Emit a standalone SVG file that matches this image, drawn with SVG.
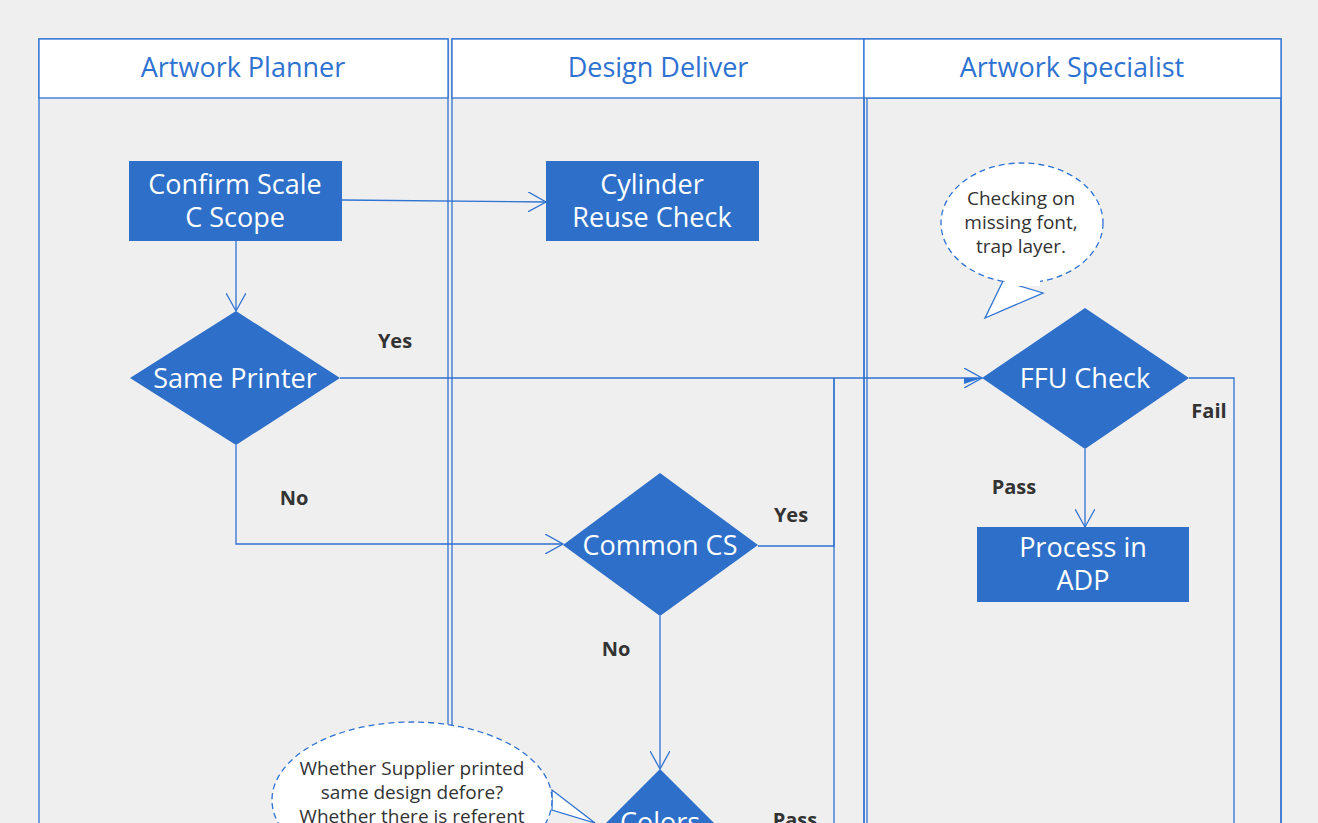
<svg xmlns="http://www.w3.org/2000/svg" width="1318" height="823" viewBox="0 0 1318 823">
<style>
.lane{fill:none;stroke:#2e72d2;stroke-width:1.3}
.hdr{fill:#fff;stroke:#2e72d2;stroke-width:1.3}
.ht{font-family:"Segoe UI","Open Sans","Noto Sans",sans-serif;font-size:27px;fill:#2e72d2;text-anchor:middle}
.node{fill:#2e70c9}
.nt{font-family:"Segoe UI","Open Sans","Noto Sans",sans-serif;font-size:27px;fill:#fff;text-anchor:middle}
.c{fill:none;stroke:#2e72d2;stroke-width:1.3}
.lbl{font-family:"Open Sans","Noto Sans",sans-serif;font-weight:bold;font-size:20px;fill:#333;text-anchor:middle}
.call{fill:#fff;stroke:#2e72d2;stroke-width:1.3;stroke-dasharray:6 4}
.ct{font-family:"Segoe UI","Open Sans","Noto Sans",sans-serif;font-size:19px;fill:#333;text-anchor:middle}
</style>
<defs><marker id="a" markerWidth="20" markerHeight="20" refX="18" refY="10" orient="auto" markerUnits="userSpaceOnUse"><path d="M0,0 L18,10 L0,20" fill="none" stroke="#2e72d2" stroke-width="1.3"/></marker></defs>
<rect width="1318" height="823" fill="#efefef"/>
<g id="lanes">
<rect class="lane" x="39" y="39" width="409" height="800"/>
<rect class="lane" x="452" y="39" width="412" height="800"/>
<rect class="lane" x="867" y="98" width="414" height="740"/>
<rect class="lane" x="864" y="39" width="417" height="800"/>
<rect class="hdr" x="39" y="39" width="409" height="59"/>
<rect class="hdr" x="452" y="39" width="412" height="59"/>
<rect class="hdr" x="864" y="39" width="417" height="59"/>
<text class="ht" x="243" y="77">Artwork Planner</text>
<text class="ht" x="658" y="77">Design Deliver</text>
<text class="ht" x="1072" y="77">Artwork Specialist</text>
</g>
<g id="connectors">
<path class="c" d="M342,200 L546,202" marker-end="url(#a)"/>
<path class="c" d="M236,241 V311" marker-end="url(#a)"/>
<path class="c" d="M340,378 H982" marker-end="url(#a)"/>
<path class="c" d="M236,445 V544 H563" marker-end="url(#a)"/>
<path class="c" d="M758,546 H834 V378"/>
<path class="c" d="M834,378 V823"/>
<path class="c" d="M660,616 V769" marker-end="url(#a)"/>
<path class="c" d="M1189,378 H1234 V823"/>
<path class="c" d="M1085,449 V527" marker-end="url(#a)"/>
<path d="M964,378 L982,378 L964,384 Z" fill="#2e72d2"/>
<text class="lbl" x="395" y="348">Yes</text>
<text class="lbl" x="294" y="505">No</text>
<text class="lbl" x="791" y="522">Yes</text>
<text class="lbl" x="616" y="656">No</text>
<text class="lbl" x="1209" y="418">Fail</text>
<text class="lbl" x="1014" y="494">Pass</text>
<text class="lbl" x="795" y="827">Pass</text>
</g>
<g id="confirm"><rect class="node" x="129" y="161" width="213" height="80"/><text class="nt" x="235" y="194">Confirm Scale</text><text class="nt" x="235" y="227">C Scope</text></g>
<g id="cylinder"><rect class="node" x="546" y="161" width="213" height="80"/><text class="nt" x="652" y="194">Cylinder</text><text class="nt" x="652" y="227">Reuse Check</text></g>
<g id="same"><polygon class="node" points="130,378 236,311 340,378 236,445"/><text class="nt" x="235" y="388">Same Printer</text></g>
<g id="common"><polygon class="node" points="563,545 660,473 758,545 660,616"/><text class="nt" x="660" y="555">Common CS</text></g>
<g id="ffu"><polygon class="node" points="982,378 1085,308 1189,378 1085,449"/><text class="nt" x="1085" y="388">FFU Check</text></g>
<g id="process"><rect class="node" x="977" y="527" width="212" height="75"/><text class="nt" x="1083" y="557">Process in</text><text class="nt" x="1083" y="590">ADP</text></g>
<g id="colors"><polygon class="node" points="560,869 660,769 760,869 660,969"/><text class="nt" x="660" y="832">Colors</text></g>
<g id="note1"><path d="M1003,281 L985,318 L1043,293 Z" fill="#fff" stroke="#2e72d2" stroke-width="1.3"/><ellipse class="call" cx="1022" cy="223" rx="81" ry="60"/><rect x="1005" y="280" width="35" height="6" fill="#fff"/><text class="ct" x="1021" y="205">Checking on</text><text class="ct" x="1021" y="229">missing font,</text><text class="ct" x="1021" y="253">trap layer.</text></g>
<g id="note2"><path d="M552,790 L595,823 L552,810 Z" fill="#fff" stroke="#2e72d2" stroke-width="1.3"/><ellipse class="call" cx="412" cy="800" rx="140" ry="78"/><text class="ct" x="412" y="775">Whether Supplier printed</text><text class="ct" x="412" y="799">same design defore?</text><text class="ct" x="412" y="823">Whether there is referent</text></g>
</svg>
